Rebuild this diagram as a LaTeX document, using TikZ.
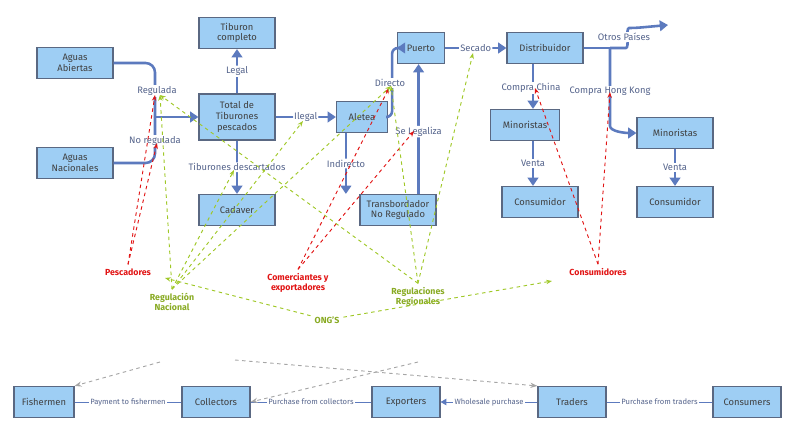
\documentclass[tikz,border=0pt]{standalone}
\usepackage{fontspec}
\setmainfont{Fira Sans}
\usetikzlibrary{arrows.meta,positioning}
\definecolor{boxfill}{RGB}{158,206,244}
\definecolor{boxline}{RGB}{90,104,130}
\definecolor{flow}{RGB}{92,122,190}
\definecolor{lab}{RGB}{85,100,140}
\definecolor{actor}{RGB}{225,20,20}
\definecolor{reg}{RGB}{160,200,40}
\begin{document}
\begin{tikzpicture}[x=0.03cm,y=-0.03cm]
\tikzstyle{box}=[rectangle, draw=boxline, line width=1pt, fill=boxfill, minimum width=76*0.03cm, minimum height=31*0.03cm, align=center, font=\fontsize{8}{9}\selectfont, text=black!75, inner sep=1pt]
\tikzstyle{connect}=[line width=2.2pt, draw=flow, -{Triangle[length=7pt,width=9pt]}, rounded corners=5pt]
\tikzstyle{lbl}=[fill=white, text=lab, font=\fontsize{8}{9}\selectfont, inner sep=1pt]
\tikzstyle{who}=[text=actor, font=\bfseries\fontsize{7.5}{8.5}\selectfont, align=center]
\tikzstyle{rule}=[text=reg!85!black, font=\bfseries\fontsize{7.5}{8.5}\selectfont, align=center]
\tikzstyle{red}=[draw=actor, dashed, thick, -{Stealth[length=5pt]}]
\tikzstyle{green}=[draw=reg, dashed, thick, -{Stealth[length=5pt]}]
\tikzstyle{grey}=[draw=black!35, dashed, thick, -{Stealth[length=6pt]}]
\tikzstyle{small}=[box, minimum width=68*0.03cm]
\useasboundingbox (0,0) rectangle (800,435);
  % boxes
  \node[box] (abiertas) at (75,63) {Aguas\\Abiertas};
  \node[box] (nacionales) at (75,163) {Aguas\\Nacionales};
  \node[box] (completo) at (237,33) {Tiburon\\completo};
  \node[box, minimum height=46*0.03cm] (total) at (237,117) {Total de\\Tiburones\\pescados};
  \node[box] (cadaver) at (237,210) {Cadaver};
  \node[box, minimum width=51*0.03cm] (aletea) at (362,117) {Aletea};
  \node[box, minimum width=47*0.03cm] (puerto) at (421,48) {Puerto};
  \node[box] (trans) at (398,210) {Transbordador\\No Regulado};
  \node[box] (distrib) at (545,48) {Distribuidor};
  \node[box, minimum width=69*0.03cm] (min1) at (525,125) {Minoristas};
  \node[box] (cons1) at (540,202) {Consumidor};
  \node[box] (min2) at (675,133) {Minoristas};
  \node[box] (cons2) at (675,202) {Consumidor};
  \coordinate (join) at (155,117);
  \coordinate (split) at (610,48);
  \coordinate (otros) at (668,25);
  % flows
  \draw[line width=2.2pt, draw=flow, rounded corners=8pt] (abiertas.east) -| (join);
  \draw[line width=2.2pt, draw=flow, rounded corners=8pt] (nacionales.east) -| (join);
  \draw[connect] (join) -- (total.west);
  \draw[connect] (total) -- node[lbl]{Legal} (completo);
  \draw[connect] (total) -- node[lbl, pos=0.5]{Tiburones descartados} (cadaver);
  \draw[connect] (total) -- node[lbl]{Ilegal} (aletea);
  \draw[connect] (aletea.east) -| ([xshift=4*0.03cm]aletea.east |- puerto.west) -- (puerto.west);
  \draw[connect] ([xshift=10*0.03cm]aletea.south west) -- node[lbl]{Indirecto} ([xshift=10*0.03cm]aletea.south west |- trans.north);
  \draw[connect] ([xshift=-18*0.03cm]trans.north east) -- node[lbl, pos=0.48]{Se Legaliza} ([xshift=-18*0.03cm]trans.north east |- puerto.south);
  \draw[connect] (puerto) -- node[lbl]{Secado} (distrib);
  \draw[line width=2.2pt, draw=flow] (distrib.east) -- (split);
  \draw[connect] (split) -- (620,48) to[out=0,in=180] (635,28) -- (otros);
  \draw[connect] (split) -- (610,120) to[out=-90,in=180] (min2.west);
  \draw[connect] ([xshift=-12*0.03cm]distrib.south) -- ([xshift=-12*0.03cm]distrib.south |- min1.north);
  \draw[connect] ([xshift=8*0.03cm]min1.south) -- node[lbl]{Venta} ([xshift=8*0.03cm]min1.south |- cons1.north);
  \draw[connect] (min2) -- node[lbl]{Venta} (cons2);
  \node[lbl] at (157,91) {Regulada};
  \node[lbl] at (155,141) {No regulada};
  \node[lbl] at (390,83) {Directo};
  \node[lbl] at (624,37) {Otros Países};
  \node[lbl] at (531,88) {Compra China};
  \node[lbl] at (610,91) {Compra Hong Kong};
  % actors and rules
  \node[who] (pesc) at (128,272) {Pescadores};
  \node[who] (comer) at (298,283) {Comerciantes y\\exportadores};
  \node[who] (consu) at (598,272) {Consumidores};
  \node[rule] (nac) at (172,302) {Regulación\\Nacional};
  \node[rule] (regio) at (418,297) {Regulaciones\\Regionales};
  \node[rule] (ong) at (327,320) {ONG'S};
  \coordinate (c1) at (155,95); \coordinate (c2) at (157,143);
  \coordinate (c3) at (389,88); \coordinate (c4) at (414,131);
  \coordinate (c5) at (535,88); \coordinate (c6) at (610,92);
  \coordinate (g1) at (160,95); \coordinate (g2) at (234,170);
  \coordinate (g3) at (303,121); \coordinate (g4) at (391,86);
  \coordinate (g5) at (473,53); \coordinate (g6) at (552,281);
  \draw[red] (pesc.north) -- (c1);
  \draw[red] (pesc.north) -- (c2);
  \draw[red] (comer.north) -- (c3);
  \draw[red] (comer.north) -- (c4);
  \draw[red] (consu.north) -- (c5);
  \draw[red] (consu.north) -- (c6);
  \draw[green] (nac.north) -- (g1);
  \draw[green] (nac.north) -- (g2);
  \draw[green] (nac.north) -- (g3);
  \draw[green] (nac.north) -- (g4);
  \draw[green] (regio.north) -- (g1);
  \draw[green] (regio.north) -- (g4);
  \draw[green] (regio.north) -- (g5);
  \draw[green] (ong) -- (165,278);
  \draw[green] (ong) -- (g6);
  % lower chain
  \node[small, minimum width=60*0.03cm] (fish) at (44,402) {Fishermen};
  \node[small] (coll) at (216,402) {Collectors};
  \node[small] (exp) at (406,402) {Exporters};
  \node[small] (trad) at (572,402) {Traders};
  \node[small] (consm) at (747,402) {Consumers};
  \tikzstyle{tiny}=[lbl, font=\fontsize{6.5}{7}\selectfont]
  \draw[draw=flow, thin] (fish) -- node[tiny]{Payment to fishermen} (coll);
  \draw[draw=flow, thin] (coll) -- node[tiny]{Purchase from collectors} (exp);
  \draw[draw=flow, thick, -{Triangle[length=5pt]}] (trad) -- node[tiny]{Wholesale purchase} (exp);
  \draw[draw=flow, thin] (trad) -- node[tiny]{Purchase from traders} (consm);
  \coordinate (d1) at (160,362); \coordinate (d2) at (235,360); \coordinate (d3) at (418,362);
  \draw[grey] (d1) -- (fish.north east);
  \draw[grey] (d2) -- (trad.north west);
  \draw[grey] (d3) -- (coll.east);
\end{tikzpicture}
\end{document}
